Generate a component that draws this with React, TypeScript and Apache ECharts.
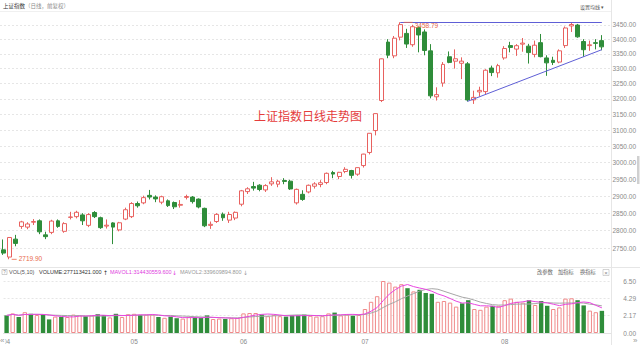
import React, { useEffect, useRef } from 'react';
import * as echarts from 'echarts';

const dates = [
  '04-01','04-02','04-03','04-07','04-08','04-09','04-10','04-13','04-14','04-15','04-16','04-17','04-20','04-21','04-22','04-23','04-24','04-27','04-28','04-29','04-30',
  '05-06','05-07','05-08','05-11','05-12','05-13','05-14','05-15','05-18','05-19','05-20','05-21','05-22','05-25','05-26','05-27','05-28','05-29',
  '06-01','06-02','06-03','06-04','06-05','06-08','06-09','06-10','06-11','06-12','06-15','06-16','06-17','06-18','06-19','06-22','06-23','06-24','06-29','06-30',
  '07-01','07-02','07-03','07-06','07-07','07-08','07-09','07-10','07-13','07-14','07-15','07-16','07-17','07-20','07-21','07-22','07-23','07-24','07-27','07-28','07-29','07-30','07-31',
  '08-03','08-04','08-05','08-06','08-07','08-10','08-11','08-12','08-13','08-14','08-17','08-18','08-19','08-20','08-21','08-24','08-25',
];

const opens = [
  2746, 2726, 2776, 2812, 2810, 2824, 2828, 2788, 2795, 2828, 2798, 2838, 2840, 2845, 2815, 2852, 2837, 2813, 2822, 2802, 2833,
  2840, 2878, 2880, 2902, 2897, 2882, 2886, 2881, 2873, 2896, 2897, 2891, 2864, 2815, 2826, 2847, 2830, 2836,
  2876, 2913, 2928, 2932, 2918, 2936, 2935, 2946, 2944, 2880, 2905, 2912, 2929, 2934, 2940, 2970, 2958, 2973, 2976, 2965,
  2991, 3031, 3099, 3195, 3390, 3343, 3407, 3420, 3381, 3440, 3425, 3360, 3207, 3252, 3340, 3325, 3318, 3316, 3197, 3223, 3224, 3302, 3286,
  3336, 3378, 3366, 3383, 3376, 3348, 3388, 3336, 3328, 3322, 3378, 3446, 3449, 3392, 3378, 3388, 3395,
];

const closes = [
  2737, 2780.6, 2764, 2825, 2819, 2826, 2796.6, 2783, 2827.3, 2812, 2820, 2839, 2852.6, 2828, 2846, 2840, 2808.5, 2815.5, 2810, 2822.4, 2860,
  2878, 2871.5, 2895.3, 2897, 2891.6, 2898, 2872, 2868.5, 2875.4, 2898.6, 2883.7, 2868, 2813.8, 2818, 2846.6, 2836.8, 2846.2, 2852.4,
  2915.4, 2921.4, 2923.4, 2919.3, 2930.8, 2942, 2943.8, 2943.3, 2920.9, 2919.7, 2890, 2931.8, 2935.9, 2939.3, 2967.6, 2965.3, 2970.6, 2979.6, 2961.5, 2984.7,
  3026, 3090.6, 3152.8, 3332.9, 3345.3, 3403.4, 3450.6, 3383.3, 3443.3, 3414.6, 3361.3, 3210.1, 3214.1, 3314.2, 3320.9, 3333.2, 3325.1, 3196.8, 3205.2, 3228, 3294.6, 3286.8, 3310,
  3368, 3371.7, 3377.6, 3386.5, 3354, 3379.3, 3340.3, 3319.3, 3320.7, 3360.1, 3438.8, 3451.1, 3408.1, 3363.9, 3380.7, 3385.6, 3373.6,
];

const lows = [
  2732, 2719.9, 2756, 2805, 2804, 2816, 2790, 2776, 2790, 2808, 2794, 2832, 2835, 2816, 2810, 2836, 2805, 2806, 2762, 2798, 2830,
  2836, 2866, 2876, 2890, 2882, 2876, 2868, 2862, 2866, 2890, 2878, 2864, 2810, 2805, 2822, 2828, 2822, 2830,
  2870, 2906, 2916, 2914, 2912, 2930, 2926, 2935, 2918, 2875, 2886, 2908, 2922, 2926, 2935, 2953, 2950, 2968, 2952, 2960,
  2985, 3025, 3084, 3190, 3335, 3335, 3396, 3370, 3374, 3355, 3345, 3202, 3195, 3240, 3318, 3300, 3265, 3192, 3184, 3208, 3215, 3275, 3270,
  3330, 3355, 3343, 3357, 3317, 3338, 3338, 3276, 3312, 3318, 3370, 3425, 3405, 3340, 3360, 3365, 3362,
];

const highs = [
  2775, 2782, 2788, 2828, 2824, 2833, 2832, 2797, 2831, 2832, 2824, 2854, 2857, 2850, 2850, 2856, 2840, 2832, 2824, 2825, 2866,
  2882, 2884, 2901, 2918, 2902, 2901, 2890, 2884, 2888, 2904, 2900, 2893, 2866, 2826, 2850, 2852, 2854, 2855,
  2918, 2926, 2942, 2935, 2935, 2956, 2948, 2953, 2948, 2922, 2917, 2934, 2941, 2947, 2970, 2975, 2972, 2986, 2978, 2985,
  3027, 3091, 3153, 3334, 3400, 3411, 3458.79, 3436, 3450, 3444, 3434, 3383, 3238, 3322, 3358, 3365, 3338, 3322, 3227, 3240, 3298, 3310, 3316,
  3376, 3391, 3383, 3404, 3384, 3395, 3418, 3345, 3340, 3365, 3444, 3457, 3453, 3400, 3395, 3400, 3414,
];

// volume in units of 1e8
const volumes = [
  2.2, 2.45, 2.0, 2.6, 2.4, 2.25, 2.35, 1.7, 2.05, 2.0, 2.0, 2.3, 2.2, 2.1, 2.2, 2.35, 2.25, 1.95, 2.4, 2.0, 2.35,
  2.4, 2.25, 2.3, 2.3, 2.0, 1.9, 2.05, 1.85, 1.8, 2.0, 1.95, 1.9, 2.2, 1.75, 1.8, 1.75, 1.85, 1.9,
  2.45, 2.5, 2.5, 2.3, 2.1, 2.25, 2.1, 2.05, 2.2, 2.2, 2.3, 2.15, 2.05, 2.1, 2.45, 2.55, 2.2, 2.3, 2.15, 2.25,
  3.0, 3.9, 4.6, 6.5, 6.3, 5.8, 6.1, 5.6, 5.2, 5.4, 5.0, 4.9, 3.9, 4.0, 3.8, 3.3, 3.7, 4.1, 3.0, 2.9, 3.3, 3.4, 3.4,
  4.1, 4.3, 3.9, 3.8, 4.1, 3.5, 4.0, 3.4, 3.0, 3.2, 4.3, 4.34, 4.1, 3.45, 2.8, 2.6, 2.77,
];

const priceTicks = [2750, 2800, 2850, 2900, 2950, 3000, 3050, 3100, 3150, 3200, 3250, 3300, 3350, 3400, 3450];
const volumeTicks = [0, 2.17, 4.29, 6.5];
const resistanceDates = ['07-09', '08-25'];
const resistanceLevel = 3458.79;
const supportDates = ['07-24', '08-25'];
const supportValues = [3192, 3364];

const RED = '#e8615f';
const VOL_RED = '#f08a8a';
const GREEN = '#2f8d3a';
const LABEL = '#8a8a8a';
const MARK = '#e8694c';

function movingAverage(values: number[], n: number) {
  return values.map((_, i) => {
    const w = values.slice(Math.max(0, i - n + 1), i + 1);
    return +(w.reduce((a, b) => a + b, 0) / w.length).toFixed(3);
  });
}

export default function App() {
  const ref = useRef<HTMLDivElement>(null);
  useEffect(() => {
    const chart = echarts.init(ref.current!, null, { renderer: 'svg' });
    const cats = [...dates, ''];
    const monthStart = (i: number) =>
      i < dates.length && (i === 0 || dates[i].slice(0, 2) !== dates[i - 1].slice(0, 2));
    const candles = dates.map((_, i) => [opens[i], closes[i], lows[i], highs[i]]);
    const volData = volumes.map((v, i) => {
      const up = i === 0 ? closes[0] >= opens[0] : closes[i] >= closes[i - 1];
      return {
        value: v,
        itemStyle: up
          ? { color: '#ffffff', borderColor: VOL_RED, borderWidth: 1 }
          : { color: GREEN, borderColor: GREEN, borderWidth: 0 },
      };
    });
    const font = "'Liberation Sans', Arial, sans-serif";
    const cjk = "'Noto Sans CJK SC', sans-serif";
    const txt = (text: string, x: number, y: number, fill: string, size: number, family = font, extra: any = {}) => ({
      type: 'text', x, y, z: 50,
      style: { text, fill, fontSize: size, fontFamily: family, verticalAlign: 'middle', ...extra },
    });

    const option: any = {
      animation: false,
      backgroundColor: '#ffffff',
      textStyle: { fontFamily: font },
      grid: [
        { left: 0, top: 10.6, width: 611, height: 255.9 },
        { left: 0, top: 281, width: 611, height: 52 },
      ],
      xAxis: [
        { type: 'category', gridIndex: 0, data: cats, show: false },
        {
          type: 'category', gridIndex: 1, data: cats,
          axisLine: { show: true, lineStyle: { color: '#e2e2e2' } },
          axisTick: { show: false },
          axisLabel: {
            interval: (i: number) => monthStart(i),
            formatter: (v: string) => v.slice(0, 2),
            fontSize: 6.5, color: LABEL, margin: 5,
          },
        },
      ],
      yAxis: [
        {
          type: 'log', logBase: 10, gridIndex: 0, position: 'right', min: 2700, max: 3500,
          axisLine: { show: false },
          axisTick: { show: false, customValues: priceTicks },
          axisLabel: {
            customValues: priceTicks,
            formatter: (v: number) => Number(v).toFixed(2),
            fontSize: 6.5, color: LABEL, align: 'right', margin: 25,
          },
          splitLine: { show: true, lineStyle: { color: '#e6e6e6', type: [2, 2], width: 1 } },
        },
        {
          type: 'value', gridIndex: 1, position: 'right', min: 0, max: 6.5,
          axisLine: { show: false },
          axisTick: { show: false, customValues: volumeTicks },
          axisLabel: {
            customValues: volumeTicks,
            formatter: (v: number) => Number(v).toFixed(2),
            fontSize: 6.5, color: LABEL, align: 'right', margin: 25,
          },
          splitLine: { show: true, lineStyle: { color: '#e6e6e6', type: [2, 2], width: 1 } },
        },
      ],
      series: [
        {
          type: 'candlestick', xAxisIndex: 0, yAxisIndex: 0, data: candles, barWidth: 4.4,
          itemStyle: { color: '#ffffff', color0: GREEN, borderColor: RED, borderColor0: GREEN, borderWidth: 1 },
          markPoint: {
            symbol: 'rect',
            itemStyle: { color: MARK },
            label: {
              show: true, position: 'right', distance: 2, color: MARK, fontSize: 6.5,
              formatter: (p: any) => Number(p.value).toFixed(2),
            },
            data: [
              { type: 'max', valueDim: 'highest', symbolSize: [9, 0.8], symbolOffset: [8, 0], label: { offset: [0, 3] } },
              { type: 'min', valueDim: 'lowest', symbolSize: [5, 0.8], symbolOffset: [5, 0], label: { offset: [0, -1] } },
            ],
          },
          markLine: {
            silent: true, symbol: ['none', 'none'],
            label: { show: false },
            lineStyle: { color: '#5f5fd6', width: 1, type: 'solid' },
            data: [
              [{ coord: [resistanceDates[0], resistanceLevel] }, { coord: [resistanceDates[1], resistanceLevel] }],
              [{ coord: [supportDates[0], supportValues[0]] }, { coord: [supportDates[1], supportValues[1]] }],
            ],
          },
        },
        {
          type: 'bar', xAxisIndex: 1, yAxisIndex: 1, data: volData, barWidth: 4.4, clip: false,
        },
        {
          type: 'line', xAxisIndex: 1, yAxisIndex: 1, data: movingAverage(volumes, 5),
          symbol: 'none', lineStyle: { color: '#e846e0', width: 1 }, z: 5,
        },
        {
          type: 'line', xAxisIndex: 1, yAxisIndex: 1, data: movingAverage(volumes, 10),
          symbol: 'none', lineStyle: { color: '#a6a6a6', width: 1 }, z: 4,
        },
      ],
      graphic: [
        { type: 'line', shape: { x1: 611.5, y1: 0, x2: 611.5, y2: 345 }, style: { stroke: '#e6e6e6', lineWidth: 1 } },
        { type: 'line', shape: { x1: 0, y1: 11.5, x2: 611, y2: 11.5 }, style: { stroke: '#f0f0f0', lineWidth: 1 } },
        { type: 'line', shape: { x1: 0, y1: 267.5, x2: 640, y2: 267.5 }, style: { stroke: '#e6e6e6', lineWidth: 1 } },
        { type: 'rect', shape: { x: 637, y: 156, width: 2.5, height: 28 }, style: { fill: '#d0d0d0' } },
        txt('上证指数', 3, 6, '#333333', 5.5, cjk),
        txt('（日线，前复权）', 25, 6, '#8a8a8a', 5.5, cjk),
        txt('设置均线 ▾', 580, 6, '#555555', 5, cjk),
        {
          type: 'text', x: 308, y: 115, z: 50,
          style: { text: '上证指数日线走势图', fill: '#e53c3c', fontSize: 12, fontFamily: cjk, align: 'center', verticalAlign: 'middle' },
        },
        { type: 'rect', shape: { x: 2, y: 269.5, width: 5, height: 5 }, style: { fill: '#ffffff', stroke: '#b0b0b0', lineWidth: 0.6 } },
        txt('?', 3.2, 272.2, '#888888', 4.5),
        txt('VOL(5,10)', 9, 272, '#555555', 5.5),
        txt('VOLUME:277113421.000', 39, 272, '#333333', 5.5),
        txt('↑', 103, 272, '#333333', 6, "'DejaVu Sans', sans-serif"),
        txt('MAVOL1:314430559.600', 110, 272, '#e040e0', 5.5),
        txt('↓', 172, 272, '#e040e0', 6, "'DejaVu Sans', sans-serif"),
        txt('MAVOL2:339609894.800', 180, 272, '#999999', 5.5),
        txt('↓', 243, 272, '#999999', 6, "'DejaVu Sans', sans-serif"),
        txt('改参数', 537, 272, '#666666', 5.3, cjk),
        txt('加指标', 558, 272, '#666666', 5.3, cjk),
        txt('换指标', 580, 272, '#666666', 5.3, cjk),
        { type: 'rect', shape: { x: 603, y: 269.5, width: 6, height: 6 }, style: { fill: '#ffffff', stroke: '#b8b8b8', lineWidth: 0.6 } },
        txt('×', 604.2, 272.5, '#888888', 6),
        txt('«', 0, 340.5, '#999999', 8, font, { backgroundColor: '#ffffff', padding: [0, 1, 0, 0] }),
        txt('»', 633, 340.5, '#999999', 8, font, { backgroundColor: '#ffffff' }),
      ],
    };
    chart.setOption(option);
    return () => chart.dispose();
  }, []);
  return <div ref={ref} style={{ position: 'absolute', left: 0, top: 0, width: 640, height: 345 }} />;
}
